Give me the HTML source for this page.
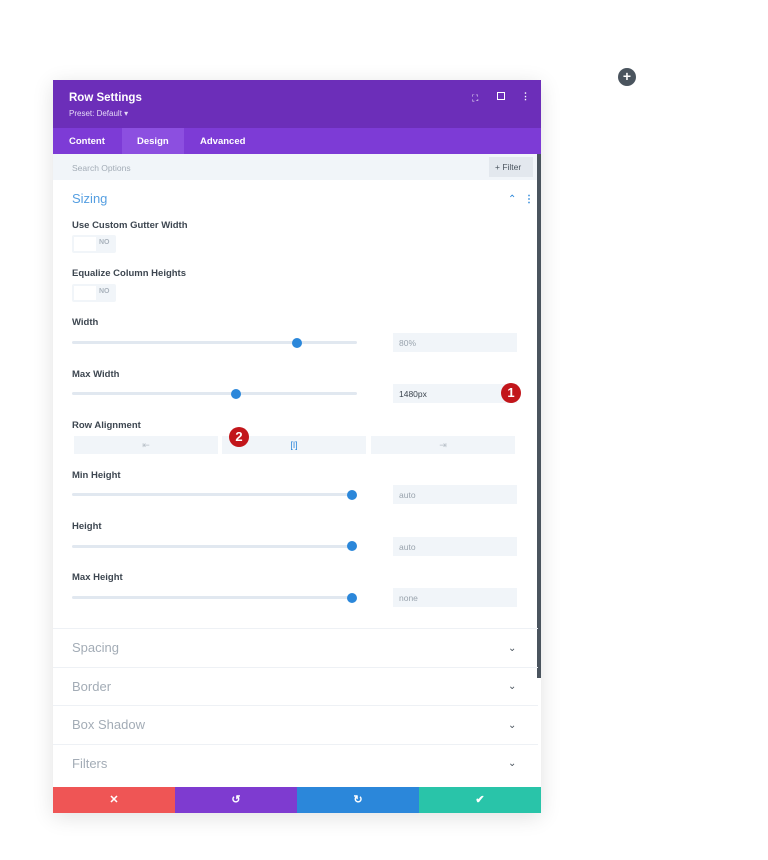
<!DOCTYPE html>
<html><head><style>
*{box-sizing:border-box;margin:0;padding:0}
body{width:768px;height:860px;background:#fff;font-family:"Liberation Sans",sans-serif;position:relative;overflow:hidden}
.a{position:absolute}
.lbl{position:absolute;left:72px;font-size:9.5px;color:#3d4650;font-weight:bold}
.track{position:absolute;left:72px;width:285px;height:3px;background:#e1e8f0;border-radius:2px}
.dot{position:absolute;width:10px;height:10px;border-radius:50%;background:#2b87da}
.inp{position:absolute;left:393px;width:124px;height:19px;background:#f1f5f9;font-size:8.5px;color:#9aa4ae;padding:5px 6px}
.tog{position:absolute;left:72px;width:44px;height:18px;background:#f1f5f9;border-radius:2px}
.tog i{position:absolute;left:2px;top:2px;width:22px;height:14px;background:#fff}
.tog b{position:absolute;left:27px;top:4px;font-size:7px;color:#aab3bd}
.sec{position:absolute;left:53px;width:485px;height:1px;background:#eef1f5}
.st{position:absolute;left:72px;font-size:13px;color:#a3acb6}
.chev{position:absolute;left:508px;font-size:10px;color:#4a545e}
.badge{position:absolute;width:20px;height:20px;border-radius:50%;background:#c2161b;color:#fff;font-size:13px;font-weight:bold;text-align:center;line-height:20px}
</style></head><body>
<div class="a" style="left:618px;top:68px;width:18px;height:18px;border-radius:50%;background:#4a545e;color:#fff;font-size:14px;line-height:17px;text-align:center;font-weight:bold">+</div>
<div class="a" style="left:53px;top:80px;width:488px;height:733px;background:#fff;box-shadow:0 4px 20px rgba(0,0,0,.12)"></div>
<div class="a" style="left:53px;top:80px;width:488px;height:48px;background:#6c2eb9"></div>
<div class="a" style="left:69px;top:92px;color:#fff;font-size:11.5px;font-weight:bold">Row Settings</div>
<div class="a" style="left:69px;top:109px;color:#e5d9f7;font-size:8px">Preset: Default ▾</div>
<div class="a" style="left:472px;top:93px;color:#fff;font-size:9px">⛶</div>
<div class="a" style="left:497px;top:92px;width:8px;height:8px;border:1.5px solid #fff"></div>
<div class="a" style="left:521px;top:91px;color:#fff;font-size:9px;font-weight:bold">⋮</div>
<div class="a" style="left:53px;top:128px;width:488px;height:26px;background:#7d3bd6"></div>
<div class="a" style="left:122px;top:128px;width:62px;height:26px;background:#8c4fe0"></div>
<div class="a" style="left:69px;top:136px;color:#fff;font-size:9.5px;font-weight:bold">Content</div>
<div class="a" style="left:137px;top:136px;color:#fff;font-size:9.5px;font-weight:bold">Design</div>
<div class="a" style="left:200px;top:136px;color:#fff;font-size:9.5px;font-weight:bold">Advanced</div>
<div class="a" style="left:53px;top:154px;width:485px;height:26px;background:#f1f5f9"></div>
<div class="a" style="left:72px;top:163px;color:#a3acb6;font-size:8.5px">Search Options</div>
<div class="a" style="left:489px;top:157px;width:44px;height:20px;background:#e3e8ee;color:#4a545e;font-size:8.5px;padding:5px 6px">+ Filter</div>
<div class="a" style="left:537px;top:154px;width:4px;height:524px;background:#4a545e"></div>
<div class="a" style="left:72px;top:191px;color:#2b87da;font-size:13px;opacity:.8">Sizing</div>
<div class="a" style="left:508px;top:194px;color:#2b87da;font-size:10px">⌃</div>
<div class="a" style="left:524px;top:194px;color:#2b87da;font-size:10px;font-weight:bold">⋮</div>
<div class="lbl" style="top:220px">Use Custom Gutter Width</div>
<div class="tog" style="top:235px"><i></i><b>NO</b></div>
<div class="lbl" style="top:268px">Equalize Column Heights</div>
<div class="tog" style="top:284px"><i></i><b>NO</b></div>
<div class="lbl" style="top:317px">Width</div>
<div class="track" style="top:341px"></div><div class="dot" style="left:292px;top:338px"></div>
<div class="inp" style="top:333px">80%</div>
<div class="lbl" style="top:369px">Max Width</div>
<div class="track" style="top:392px"></div><div class="dot" style="left:231px;top:389px"></div>
<div class="inp" style="top:384px;color:#3d4650">1480px</div>
<div class="badge" style="left:501px;top:383px">1</div>
<div class="lbl" style="top:420px">Row Alignment</div>
<div class="a" style="left:74px;top:436px;width:144px;height:18px;background:#f1f5f9;color:#b8c0c8;font-size:9px;text-align:center;line-height:18px">⇤</div>
<div class="a" style="left:222px;top:436px;width:144px;height:18px;background:#f1f5f9;color:#2b87da;font-size:9px;text-align:center;line-height:18px">[ǀ]</div>
<div class="a" style="left:371px;top:436px;width:144px;height:18px;background:#f1f5f9;color:#b8c0c8;font-size:9px;text-align:center;line-height:18px">⇥</div>
<div class="badge" style="left:229px;top:427px">2</div>
<div class="lbl" style="top:470px">Min Height</div>
<div class="track" style="top:493px;width:280px"></div><div class="dot" style="left:347px;top:490px"></div>
<div class="inp" style="top:485px">auto</div>
<div class="lbl" style="top:521px">Height</div>
<div class="track" style="top:545px;width:280px"></div><div class="dot" style="left:347px;top:541px"></div>
<div class="inp" style="top:537px">auto</div>
<div class="lbl" style="top:572px">Max Height</div>
<div class="track" style="top:596px;width:280px"></div><div class="dot" style="left:347px;top:593px"></div>
<div class="inp" style="top:588px">none</div>
<div class="sec" style="top:628px"></div>
<div class="st" style="top:640px">Spacing</div><div class="chev" style="top:643px">⌄</div>
<div class="sec" style="top:667px"></div>
<div class="st" style="top:679px">Border</div><div class="chev" style="top:681px">⌄</div>
<div class="sec" style="top:705px"></div>
<div class="st" style="top:717px">Box Shadow</div><div class="chev" style="top:720px">⌄</div>
<div class="sec" style="top:744px"></div>
<div class="st" style="top:756px">Filters</div><div class="chev" style="top:758px">⌄</div>
<div class="a" style="left:53px;top:787px;width:122px;height:26px;background:#ef5555;color:#fff;text-align:center;line-height:26px;font-size:11px;font-weight:bold">✕</div>
<div class="a" style="left:175px;top:787px;width:122px;height:26px;background:#7e3bd0;color:#fff;text-align:center;line-height:26px;font-size:11px;font-weight:bold">↺</div>
<div class="a" style="left:297px;top:787px;width:122px;height:26px;background:#2b87da;color:#fff;text-align:center;line-height:26px;font-size:11px;font-weight:bold">↻</div>
<div class="a" style="left:419px;top:787px;width:122px;height:26px;background:#29c4a9;color:#fff;text-align:center;line-height:26px;font-size:11px;font-weight:bold">✔</div>
</body></html>
